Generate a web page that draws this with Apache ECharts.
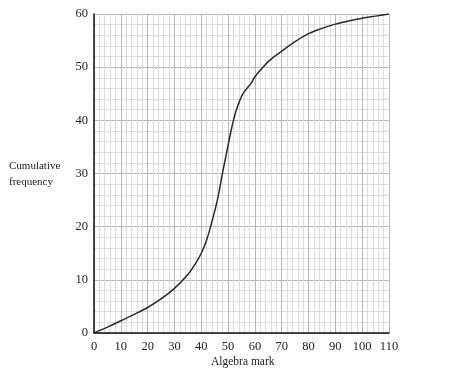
<!DOCTYPE html>
<html>
<head>
<meta charset="utf-8">
<script src="https://cdn.jsdelivr.net/npm/echarts@6/dist/echarts.min.js"></script>
<style>html,body{margin:0;padding:0;background:#fff;}#c{width:474px;height:372px;}</style>
</head>
<body>
<div id="c"></div>
<script>
var marks = [0,5,10,15,20,25,30,35,38,40,42,44,46,48,49,50,51,52,53,54.4,55.8,57,58.5,60,63,66,70,75,80,85,90,95,100,105,110];
var cumFreq = [0,1.1,2.3,3.5,4.8,6.4,8.4,11,13.2,15,17.5,21,25,30.3,32.8,35.3,37.8,40,41.8,43.8,45.2,46,46.9,48.2,50,51.5,53,54.8,56.3,57.3,58.1,58.7,59.2,59.6,60];
var xTicks = [0,10,20,30,40,50,60,70,80,90,100,110];
var yTicks = [0,10,20,30,40,50,60];

var chart = echarts.init(document.getElementById('c'));
var font = '"Liberation Serif", "DejaVu Serif", serif';
var pts = marks.map(function(m,i){return [m,cumFreq[i]];});
chart.setOption({
  animation:false,
  grid:{left:94,right:85,top:14,bottom:39},
  xAxis:{type:'value',min:xTicks[0],max:xTicks[xTicks.length-1],interval:10,
    axisLine:{lineStyle:{color:'#111',width:1.5}},axisTick:{show:false},
    axisLabel:{color:'#222',fontFamily:font,fontSize:12.5,margin:7},
    splitLine:{lineStyle:{color:'#b8b8b8',width:1}},
    minorTick:{show:false,splitNumber:5},
    minorSplitLine:{show:true,lineStyle:{color:'#dcdcdc',width:1}}},
  yAxis:{type:'value',min:yTicks[0],max:yTicks[yTicks.length-1],interval:10,
    axisLine:{show:true,lineStyle:{color:'#111',width:1.5}},axisTick:{show:false},
    axisLabel:{color:'#222',fontFamily:font,fontSize:12.5,margin:6},
    splitLine:{lineStyle:{color:'#b8b8b8',width:1}},
    minorTick:{show:false,splitNumber:5},
    minorSplitLine:{show:true,lineStyle:{color:'#dcdcdc',width:1}}},
  graphic:[
    {type:'text',left:9,top:158,style:{text:'Cumulative\nfrequency',font:'11px '+font,fill:'#222',lineHeight:16}},
    {type:'text',left:211,top:356,style:{text:'Algebra mark',font:'11.5px '+font,fill:'#222'}}
  ],
  series:[{type:'line',data:pts,showSymbol:false,smooth:0.35,
    lineStyle:{color:'#2a2a2a',width:1.5}}]
});
</script>
</body>
</html>
